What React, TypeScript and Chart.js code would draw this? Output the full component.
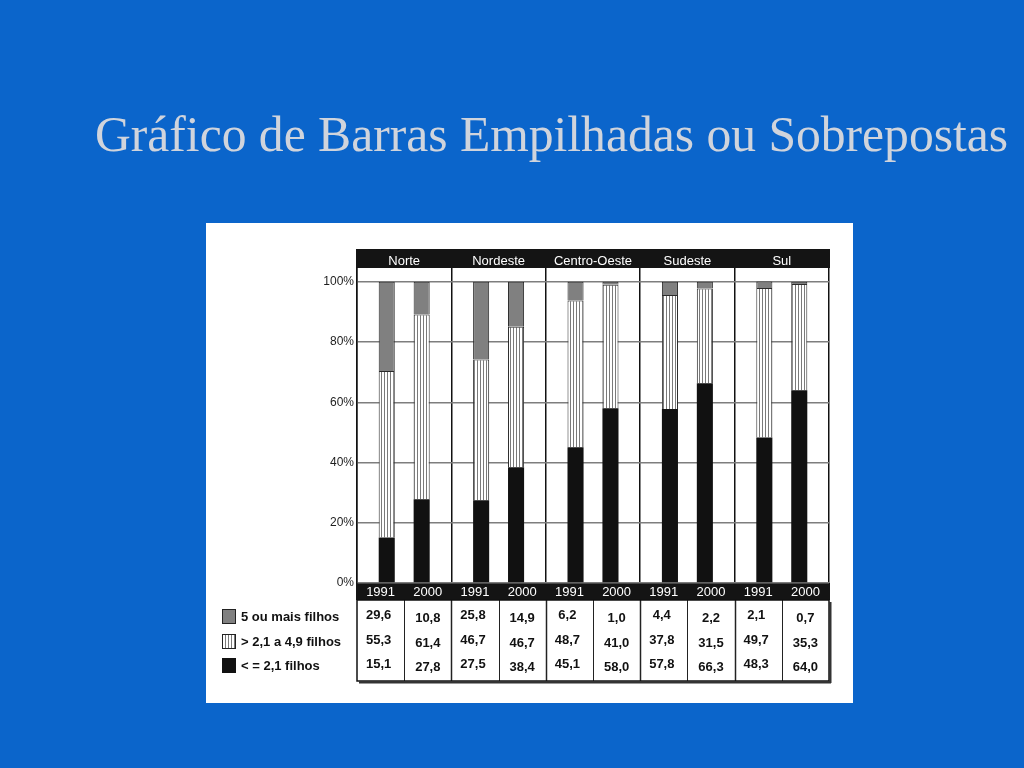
import React, { useEffect, useRef } from 'react';
import Chart from 'chart.js/auto';

const regions = ['Norte', 'Nordeste', 'Centro-Oeste', 'Sudeste', 'Sul'];
const years = ['1991', '2000'];
const yearLabels = regions.flatMap(() => years);
const seriesNames = ['5 ou mais filhos', '> 2,1 a 4,9 filhos', '< = 2,1 filhos'];

// % de mulheres por número médio de filhos
const cincoOuMais1991 = [29.6, 25.8, 6.2, 4.4, 2.1];
const cincoOuMais2000 = [10.8, 14.9, 1.0, 2.2, 0.7];
const entre1991 = [55.3, 46.7, 48.7, 37.8, 49.7];
const entre2000 = [61.4, 46.7, 41.0, 31.5, 35.3];
const ate1991 = [15.1, 27.5, 45.1, 57.8, 48.3];
const ate2000 = [27.8, 38.4, 58.0, 66.3, 64.0];

const yTicks = [0, 20, 40, 60, 80, 100];

const FONT = '"Liberation Sans", Arial, sans-serif';
const YEAR_BAND = 17;
const GRAY = '#808080';
const BLACK = '#111111';

const interleave = (a: number[], b: number[]) => a.flatMap((v, i) => [v, b[i]]);
const tableRows = [
  interleave(cincoOuMais1991, cincoOuMais2000),
  interleave(entre1991, entre2000),
  interleave(ate1991, ate2000),
];
const fmt = (v: number) => v.toFixed(1).replace('.', ',');

const makeStripes = (ctx: CanvasRenderingContext2D) => {
  const c = document.createElement('canvas');
  c.width = 3;
  c.height = 8;
  const g = c.getContext('2d')!;
  g.fillStyle = '#ffffff';
  g.fillRect(0, 0, 3, 8);
  g.fillStyle = '#7a7a7a';
  g.fillRect(1, 0, 1, 8);
  return ctx.createPattern(c, 'repeat')!;
};

const App: React.FC = () => {
  const chartRef = useRef<HTMLCanvasElement | null>(null);
  const chartInstance = useRef<Chart | null>(null);

  useEffect(() => {
    if (!chartRef.current) return;
    if (chartInstance.current) chartInstance.current.destroy();
    const ctx = chartRef.current.getContext('2d');
    if (!ctx) return;
    const stripes = makeStripes(ctx);
    const swatches: (string | CanvasPattern)[] = [GRAY, stripes, BLACK];

    const tablePlugin = {
      id: 'tabela',
      beforeDraw(chart: any) {
        const { ctx: c, chartArea } = chart;
        const top = chart.scales.x;
        const bottom = chart.scales.years;
        c.save();
        c.fillStyle = '#141414';
        c.fillRect(chartArea.left - 1, top.top, chartArea.right - chartArea.left + 2, top.bottom - top.top);
        c.fillRect(chartArea.left - 1, bottom.top, chartArea.right - chartArea.left + 2, YEAR_BAND);
        c.restore();
      },
      afterDraw(chart: any) {
        const { ctx: c, chartArea } = chart;
        const yr = chart.scales.years;
        const left = chartArea.left;
        const right = chartArea.right;
        const tTop = yr.top + YEAR_BAND;
        const tBottom = yr.bottom;
        const colW = (right - left) / yearLabels.length;
        c.save();
        c.strokeStyle = '#222';
        for (let i = 1; i < yearLabels.length; i++) {
          const x = Math.round(left + i * colW) + 0.5;
          c.lineWidth = i % 2 === 0 ? 1.5 : 1;
          c.beginPath();
          c.moveTo(x, tTop);
          c.lineTo(x, tBottom);
          c.stroke();
        }
        c.lineWidth = 1.5;
        c.strokeStyle = '#111';
        c.strokeRect(left, tTop, right - left, tBottom - tTop);
        c.fillStyle = '#333';
        c.fillRect(right, tTop + 2, 2.5, tBottom - tTop);
        c.fillRect(left + 2, tBottom, right - left, 2.5);

        const rowY = [17, 42, 66];
        c.fillStyle = '#111';
        c.font = `bold 13px ${FONT}`;
        c.textAlign = 'center';
        c.textBaseline = 'middle';
        tableRows.forEach((row, r) => {
          row.forEach((v, i) => {
            const x = yr.getPixelForTick(i) + (i % 2 === 0 ? -2 : 0);
            const y = tTop + rowY[r] + (i % 2 === 0 ? -1.5 : 1.5);
            c.fillText(fmt(v), x, y);
          });
        });

        // legenda
        c.textAlign = 'left';
        seriesNames.forEach((name, r) => {
          const y = tTop + rowY[r];
          c.fillStyle = swatches[r];
          c.fillRect(16, y - 8, 14, 15);
          if (r < 2) {
            c.lineWidth = 1;
            c.strokeStyle = '#222';
            c.strokeRect(16.5, y - 7.5, 13, 14);
          }
          c.fillStyle = '#111';
          c.fillText(name, 35, y);
        });
        c.restore();
      },
    };

    const seg = (label: string, data: number[], stack: string, color: string | CanvasPattern, border: boolean) => ({
      label,
      data,
      stack,
      backgroundColor: color,
      borderColor: '#2a2a2a',
      borderWidth: border ? 1 : 0,
      categoryPercentage: 0.74,
      barPercentage: 0.46,
    });

    chartInstance.current = new Chart(ctx, {
      type: 'bar',
      data: {
        labels: regions,
        datasets: [
          seg(seriesNames[2], ate1991, '1991', BLACK, false),
          seg(seriesNames[1], entre1991, '1991', stripes, true),
          seg(seriesNames[0], cincoOuMais1991, '1991', GRAY, true),
          seg(seriesNames[2], ate2000, '2000', BLACK, false),
          seg(seriesNames[1], entre2000, '2000', stripes, true),
          seg(seriesNames[0], cincoOuMais2000, '2000', GRAY, true),
        ],
      },
      options: {
        responsive: false,
        animation: false,
        layout: { padding: { left: 0, right: 24, top: 26, bottom: 22 } },
        plugins: { legend: { display: false }, tooltip: { enabled: false } },
        scales: {
          x: {
            type: 'category',
            position: 'top',
            stacked: true,
            offset: true,
            grid: { offset: true, color: '#111', lineWidth: 1.5, drawTicks: false },
            border: { display: false },
            ticks: { color: '#ffffff', font: { family: FONT, size: 13 }, padding: -1 },
            afterFit: (s: any) => {
              s.height = 19;
            },
          },
          years: {
            type: 'category',
            position: 'bottom',
            labels: yearLabels,
            offset: true,
            grid: { display: false, drawTicks: false },
            border: { display: false },
            ticks: { color: '#ffffff', font: { family: FONT, size: 13 }, padding: 2, autoSkip: false, maxRotation: 0 },
            afterFit: (s: any) => {
              s.height = 98;
            },
          },
          y: {
            stacked: true,
            min: 0,
            max: 104.6,
            afterBuildTicks: (s: any) => {
              s.ticks = yTicks.map((value) => ({ value }));
            },
            grid: { color: '#7e7e7e', lineWidth: 1.5, drawTicks: false },
            border: { color: '#111', width: 1.5 },
            ticks: { color: '#1e1e1e', font: { family: FONT, size: 12 }, padding: 3, callback: (v: any) => `${v}%` },
            afterFit: (s: any) => {
              s.width = 151;
            },
          },
        },
      },
      plugins: [tablePlugin],
    } as any);

    return () => {
      if (chartInstance.current) {
        chartInstance.current.destroy();
        chartInstance.current = null;
      }
    };
  }, []);

  return (
    <div style={{ position: 'fixed', left: 0, top: 0, width: 1024, height: 768, background: '#0b65cb', overflow: 'hidden' }}>
      <div
        style={{
          position: 'absolute',
          left: 95,
          top: 110,
          fontFamily: '"Liberation Serif", "Times New Roman", serif',
          fontSize: 49.6,
          lineHeight: '50px',
          color: '#d0d4dc',
          whiteSpace: 'nowrap',
        }}
      >
        Gráfico de Barras Empilhadas ou Sobrepostas
      </div>
      <div style={{ position: 'absolute', left: 206, top: 223, width: 647, height: 480, background: '#ffffff' }}>
        <canvas ref={chartRef} width={647} height={480} style={{ display: 'block' }} />
      </div>
    </div>
  );
};

export default App;
